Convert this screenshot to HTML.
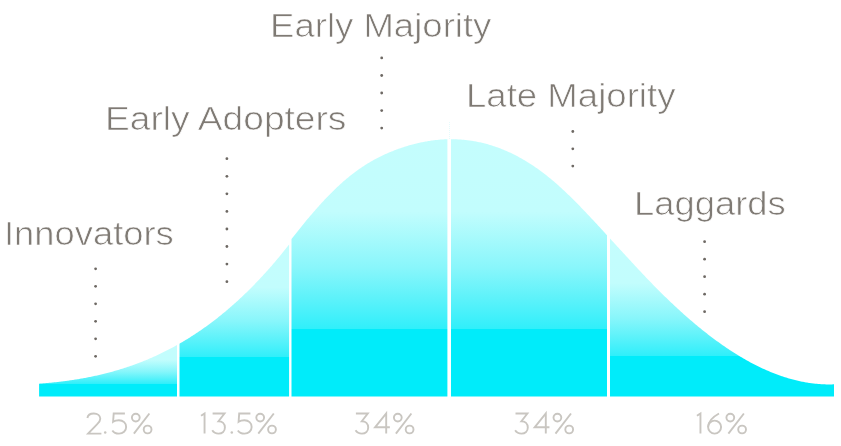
<!DOCTYPE html>
<html><head><meta charset="utf-8"><style>
html,body{margin:0;padding:0;background:#fff;width:841px;height:446px;overflow:hidden;position:relative}
svg{position:absolute;left:0;top:0}
#w{position:absolute;left:0;top:0;width:841px;height:446px}
.t{position:absolute;will-change:transform;white-space:nowrap;font-family:"Liberation Sans",sans-serif;line-height:1;transform-origin:0 0}
</style></head><body><div id="w">
<svg width="841" height="446" viewBox="0 0 841 446">
<defs><linearGradient id="g0" gradientUnits="userSpaceOnUse" x1="0" y1="345.05" x2="0" y2="396.60"><stop offset="0.0000" stop-color="#c4fdfd"/><stop offset="0.2864" stop-color="#c2fdfd"/><stop offset="0.5113" stop-color="#88f6fb"/><stop offset="0.6341" stop-color="#5cf2fa"/><stop offset="0.7517" stop-color="#30effa"/><stop offset="0.7517" stop-color="#00ecfa"/><stop offset="1.0000" stop-color="#00ecfa"/></linearGradient>
<linearGradient id="g1" gradientUnits="userSpaceOnUse" x1="0" y1="244.52" x2="0" y2="396.60"><stop offset="0.0000" stop-color="#c4fdfd"/><stop offset="0.2818" stop-color="#c2fdfd"/><stop offset="0.5031" stop-color="#88f6fb"/><stop offset="0.6239" stop-color="#5cf2fa"/><stop offset="0.7396" stop-color="#30effa"/><stop offset="0.7396" stop-color="#00ecfa"/><stop offset="1.0000" stop-color="#00ecfa"/></linearGradient>
<linearGradient id="g2" gradientUnits="userSpaceOnUse" x1="0" y1="139.26" x2="0" y2="396.60"><stop offset="0.0000" stop-color="#c4fdfd"/><stop offset="0.2807" stop-color="#c2fdfd"/><stop offset="0.5013" stop-color="#88f6fb"/><stop offset="0.6216" stop-color="#5cf2fa"/><stop offset="0.7369" stop-color="#30effa"/><stop offset="0.7369" stop-color="#00ecfa"/><stop offset="1.0000" stop-color="#00ecfa"/></linearGradient>
<linearGradient id="g3" gradientUnits="userSpaceOnUse" x1="0" y1="139.21" x2="0" y2="396.60"><stop offset="0.0000" stop-color="#c4fdfd"/><stop offset="0.2808" stop-color="#c2fdfd"/><stop offset="0.5013" stop-color="#88f6fb"/><stop offset="0.6217" stop-color="#5cf2fa"/><stop offset="0.7370" stop-color="#30effa"/><stop offset="0.7370" stop-color="#00ecfa"/><stop offset="1.0000" stop-color="#00ecfa"/></linearGradient>
<linearGradient id="g4" gradientUnits="userSpaceOnUse" x1="0" y1="238.50" x2="0" y2="396.60"><stop offset="0.0000" stop-color="#c4fdfd"/><stop offset="0.2822" stop-color="#c2fdfd"/><stop offset="0.5039" stop-color="#88f6fb"/><stop offset="0.6248" stop-color="#5cf2fa"/><stop offset="0.7407" stop-color="#30effa"/><stop offset="0.7407" stop-color="#00ecfa"/><stop offset="1.0000" stop-color="#00ecfa"/></linearGradient></defs>
<path d="M39.10,396.6 L39.10,383.67 L40.10,383.60 L41.10,383.52 L42.10,383.44 L43.10,383.36 L44.10,383.28 L45.10,383.20 L46.10,383.11 L47.10,383.02 L48.10,382.93 L49.10,382.84 L50.10,382.75 L51.10,382.65 L52.10,382.55 L53.10,382.45 L54.10,382.35 L55.10,382.24 L56.10,382.13 L57.10,382.02 L58.10,381.91 L59.10,381.80 L60.10,381.68 L61.10,381.56 L62.10,381.44 L63.10,381.31 L64.10,381.18 L65.10,381.05 L66.10,380.92 L67.10,380.79 L68.10,380.65 L69.10,380.51 L70.10,380.37 L71.10,380.22 L72.10,380.07 L73.10,379.92 L74.10,379.77 L75.10,379.61 L76.10,379.45 L77.10,379.29 L78.10,379.13 L79.10,378.96 L80.10,378.79 L81.10,378.62 L82.10,378.44 L83.10,378.26 L84.10,378.08 L85.10,377.89 L86.10,377.71 L87.10,377.51 L88.10,377.32 L89.10,377.12 L90.10,376.92 L91.10,376.72 L92.10,376.51 L93.10,376.30 L94.10,376.09 L95.10,375.87 L96.10,375.65 L97.10,375.43 L98.10,375.20 L99.10,374.98 L100.10,374.74 L101.10,374.51 L102.10,374.27 L103.10,374.02 L104.10,373.78 L105.10,373.53 L106.10,373.28 L107.10,373.02 L108.10,372.76 L109.10,372.50 L110.10,372.23 L111.10,371.96 L112.10,371.68 L113.10,371.41 L114.10,371.12 L115.10,370.84 L116.10,370.55 L117.10,370.26 L118.10,369.96 L119.10,369.66 L120.10,369.36 L121.10,369.05 L122.10,368.74 L123.10,368.42 L124.10,368.10 L125.10,367.78 L126.10,367.45 L127.10,367.12 L128.10,366.78 L129.10,366.44 L130.10,366.10 L131.10,365.75 L132.10,365.40 L133.10,365.05 L134.10,364.69 L135.10,364.32 L136.10,363.95 L137.10,363.58 L138.10,363.21 L139.10,362.83 L140.10,362.44 L141.10,362.05 L142.10,361.66 L143.10,361.26 L144.10,360.86 L145.10,360.45 L146.10,360.04 L147.10,359.63 L148.10,359.21 L149.10,358.78 L150.10,358.35 L151.10,357.92 L152.10,357.48 L153.10,357.04 L154.10,356.59 L155.10,356.14 L156.10,355.69 L157.10,355.22 L158.10,354.76 L159.10,354.29 L160.10,353.81 L161.10,353.33 L162.10,352.85 L163.10,352.36 L164.10,351.87 L165.10,351.37 L166.10,350.87 L167.10,350.36 L168.10,349.84 L169.10,349.32 L170.10,348.80 L171.10,348.27 L172.10,347.74 L173.10,347.20 L174.10,346.66 L175.10,346.11 L176.10,345.56 L177.00,345.05 L177.00,396.6 Z" fill="url(#g0)"/>
<path d="M179.50,396.6 L179.50,343.64 L180.50,343.06 L181.50,342.48 L182.50,341.89 L183.50,341.30 L184.50,340.70 L185.50,340.10 L186.50,339.49 L187.50,338.88 L188.50,338.26 L189.50,337.64 L190.50,337.01 L191.50,336.37 L192.50,335.73 L193.50,335.09 L194.50,334.44 L195.50,333.78 L196.50,333.12 L197.50,332.45 L198.50,331.78 L199.50,331.10 L200.50,330.41 L201.50,329.72 L202.50,329.02 L203.50,328.32 L204.50,327.62 L205.50,326.90 L206.50,326.18 L207.50,325.46 L208.50,324.73 L209.50,323.99 L210.50,323.25 L211.50,322.50 L212.50,321.74 L213.50,320.98 L214.50,320.22 L215.50,319.44 L216.50,318.67 L217.50,317.88 L218.50,317.09 L219.50,316.29 L220.50,315.49 L221.50,314.68 L222.50,313.87 L223.50,313.05 L224.50,312.22 L225.50,311.39 L226.50,310.55 L227.50,309.70 L228.50,308.85 L229.50,307.99 L230.50,307.12 L231.50,306.25 L232.50,305.37 L233.50,304.49 L234.50,303.60 L235.50,302.70 L236.50,301.80 L237.50,300.89 L238.50,299.97 L239.50,299.05 L240.50,298.12 L241.50,297.18 L242.50,296.24 L243.50,295.29 L244.50,294.33 L245.50,293.37 L246.50,292.40 L247.50,291.42 L248.50,290.44 L249.50,289.45 L250.50,288.45 L251.50,287.45 L252.50,286.43 L253.50,285.42 L254.50,284.39 L255.50,283.36 L256.50,282.32 L257.50,281.28 L258.50,280.22 L259.50,279.17 L260.50,278.10 L261.50,277.03 L262.50,275.95 L263.50,274.86 L264.50,273.76 L265.50,272.66 L266.50,271.55 L267.50,270.43 L268.50,269.31 L269.50,268.18 L270.50,267.04 L271.50,265.90 L272.50,264.74 L273.50,263.58 L274.50,262.42 L275.50,261.24 L276.50,260.06 L277.50,258.87 L278.50,257.67 L279.50,256.47 L280.50,255.26 L281.50,254.04 L282.50,252.81 L283.50,251.57 L284.50,250.33 L285.50,249.08 L286.50,247.82 L287.50,246.56 L288.50,245.29 L289.10,244.52 L289.10,396.6 Z" fill="url(#g1)"/>
<path d="M291.50,396.6 L291.50,239.03 L292.50,237.74 L293.50,236.46 L294.50,235.19 L295.50,233.91 L296.50,232.65 L297.50,231.39 L298.50,230.13 L299.50,228.88 L300.50,227.64 L301.50,226.40 L302.50,225.17 L303.50,223.95 L304.50,222.73 L305.50,221.52 L306.50,220.31 L307.50,219.11 L308.50,217.92 L309.50,216.73 L310.50,215.55 L311.50,214.38 L312.50,213.22 L313.50,212.06 L314.50,210.91 L315.50,209.77 L316.50,208.64 L317.50,207.51 L318.50,206.39 L319.50,205.28 L320.50,204.18 L321.50,203.09 L322.50,202.00 L323.50,200.93 L324.50,199.86 L325.50,198.80 L326.50,197.75 L327.50,196.71 L328.50,195.68 L329.50,194.65 L330.50,193.64 L331.50,192.64 L332.50,191.64 L333.50,190.66 L334.50,189.68 L335.50,188.72 L336.50,187.76 L337.50,186.82 L338.50,185.89 L339.50,184.96 L340.50,184.05 L341.50,183.15 L342.50,182.25 L343.50,181.37 L344.50,180.50 L345.50,179.65 L346.50,178.80 L347.50,177.96 L348.50,177.14 L349.50,176.33 L350.50,175.52 L351.50,174.73 L352.50,173.96 L353.50,173.19 L354.50,172.44 L355.50,171.69 L356.50,170.96 L357.50,170.24 L358.50,169.53 L359.50,168.83 L360.50,168.14 L361.50,167.46 L362.50,166.80 L363.50,166.14 L364.50,165.49 L365.50,164.86 L366.50,164.23 L367.50,163.61 L368.50,163.01 L369.50,162.41 L370.50,161.82 L371.50,161.25 L372.50,160.68 L373.50,160.12 L374.50,159.57 L375.50,159.03 L376.50,158.50 L377.50,157.97 L378.50,157.46 L379.50,156.96 L380.50,156.46 L381.50,155.97 L382.50,155.49 L383.50,155.02 L384.50,154.56 L385.50,154.10 L386.50,153.65 L387.50,153.21 L388.50,152.78 L389.50,152.36 L390.50,151.94 L391.50,151.53 L392.50,151.13 L393.50,150.73 L394.50,150.35 L395.50,149.96 L396.50,149.59 L397.50,149.22 L398.50,148.86 L399.50,148.51 L400.50,148.16 L401.50,147.82 L402.50,147.48 L403.50,147.15 L404.50,146.83 L405.50,146.51 L406.50,146.20 L407.50,145.90 L408.50,145.60 L409.50,145.31 L410.50,145.02 L411.50,144.75 L412.50,144.48 L413.50,144.21 L414.50,143.95 L415.50,143.70 L416.50,143.46 L417.50,143.22 L418.50,142.99 L419.50,142.76 L420.50,142.54 L421.50,142.33 L422.50,142.13 L423.50,141.93 L424.50,141.74 L425.50,141.56 L426.50,141.38 L427.50,141.21 L428.50,141.04 L429.50,140.89 L430.50,140.74 L431.50,140.59 L432.50,140.46 L433.50,140.33 L434.50,140.21 L435.50,140.09 L436.50,139.98 L437.50,139.88 L438.50,139.79 L439.50,139.70 L440.50,139.62 L441.50,139.55 L442.50,139.48 L443.50,139.42 L444.50,139.37 L445.50,139.33 L446.50,139.29 L447.40,139.26 L447.40,396.6 Z" fill="url(#g2)"/>
<path d="M451.00,396.6 L451.00,139.21 L452.00,139.22 L453.00,139.23 L454.00,139.24 L455.00,139.27 L456.00,139.30 L457.00,139.34 L458.00,139.39 L459.00,139.44 L460.00,139.51 L461.00,139.58 L462.00,139.65 L463.00,139.74 L464.00,139.83 L465.00,139.93 L466.00,140.04 L467.00,140.15 L468.00,140.28 L469.00,140.41 L470.00,140.55 L471.00,140.69 L472.00,140.85 L473.00,141.01 L474.00,141.18 L475.00,141.35 L476.00,141.54 L477.00,141.73 L478.00,141.93 L479.00,142.14 L480.00,142.36 L481.00,142.58 L482.00,142.81 L483.00,143.05 L484.00,143.30 L485.00,143.56 L486.00,143.82 L487.00,144.09 L488.00,144.37 L489.00,144.66 L490.00,144.96 L491.00,145.26 L492.00,145.57 L493.00,145.89 L494.00,146.22 L495.00,146.56 L496.00,146.90 L497.00,147.26 L498.00,147.62 L499.00,147.99 L500.00,148.37 L501.00,148.75 L502.00,149.15 L503.00,149.55 L504.00,149.96 L505.00,150.38 L506.00,150.81 L507.00,151.24 L508.00,151.69 L509.00,152.14 L510.00,152.60 L511.00,153.07 L512.00,153.55 L513.00,154.04 L514.00,154.54 L515.00,155.04 L516.00,155.55 L517.00,156.08 L518.00,156.61 L519.00,157.15 L520.00,157.69 L521.00,158.25 L522.00,158.81 L523.00,159.39 L524.00,159.97 L525.00,160.56 L526.00,161.16 L527.00,161.77 L528.00,162.39 L529.00,163.02 L530.00,163.65 L531.00,164.30 L532.00,164.95 L533.00,165.61 L534.00,166.28 L535.00,166.96 L536.00,167.65 L537.00,168.35 L538.00,169.06 L539.00,169.77 L540.00,170.50 L541.00,171.23 L542.00,171.98 L543.00,172.73 L544.00,173.49 L545.00,174.26 L546.00,175.04 L547.00,175.83 L548.00,176.63 L549.00,177.44 L550.00,178.26 L551.00,179.08 L552.00,179.92 L553.00,180.76 L554.00,181.62 L555.00,182.48 L556.00,183.35 L557.00,184.23 L558.00,185.11 L559.00,186.01 L560.00,186.91 L561.00,187.82 L562.00,188.74 L563.00,189.67 L564.00,190.60 L565.00,191.54 L566.00,192.48 L567.00,193.44 L568.00,194.40 L569.00,195.36 L570.00,196.34 L571.00,197.31 L572.00,198.30 L573.00,199.29 L574.00,200.28 L575.00,201.29 L576.00,202.29 L577.00,203.30 L578.00,204.32 L579.00,205.34 L580.00,206.37 L581.00,207.40 L582.00,208.43 L583.00,209.47 L584.00,210.51 L585.00,211.56 L586.00,212.61 L587.00,213.66 L588.00,214.72 L589.00,215.78 L590.00,216.84 L591.00,217.91 L592.00,218.98 L593.00,220.05 L594.00,221.12 L595.00,222.20 L596.00,223.28 L597.00,224.36 L598.00,225.44 L599.00,226.52 L600.00,227.61 L601.00,228.69 L602.00,229.78 L603.00,230.87 L604.00,231.96 L605.00,233.05 L606.00,234.14 L607.00,235.23 L607.00,396.6 Z" fill="url(#g3)"/>
<path d="M610.00,396.6 L610.00,238.50 L611.00,239.59 L612.00,240.68 L613.00,241.77 L614.00,242.86 L615.00,243.95 L616.00,245.04 L617.00,246.13 L618.00,247.22 L619.00,248.31 L620.00,249.39 L621.00,250.48 L622.00,251.57 L623.00,252.66 L624.00,253.75 L625.00,254.83 L626.00,255.92 L627.00,257.00 L628.00,258.09 L629.00,259.17 L630.00,260.25 L631.00,261.34 L632.00,262.42 L633.00,263.50 L634.00,264.58 L635.00,265.66 L636.00,266.73 L637.00,267.81 L638.00,268.88 L639.00,269.95 L640.00,271.02 L641.00,272.09 L642.00,273.15 L643.00,274.21 L644.00,275.27 L645.00,276.32 L646.00,277.38 L647.00,278.43 L648.00,279.47 L649.00,280.51 L650.00,281.55 L651.00,282.58 L652.00,283.62 L653.00,284.64 L654.00,285.66 L655.00,286.68 L656.00,287.70 L657.00,288.71 L658.00,289.71 L659.00,290.72 L660.00,291.71 L661.00,292.71 L662.00,293.70 L663.00,294.68 L664.00,295.66 L665.00,296.64 L666.00,297.61 L667.00,298.58 L668.00,299.55 L669.00,300.51 L670.00,301.46 L671.00,302.42 L672.00,303.36 L673.00,304.31 L674.00,305.24 L675.00,306.18 L676.00,307.11 L677.00,308.03 L678.00,308.95 L679.00,309.87 L680.00,310.78 L681.00,311.69 L682.00,312.59 L683.00,313.49 L684.00,314.38 L685.00,315.27 L686.00,316.15 L687.00,317.03 L688.00,317.91 L689.00,318.78 L690.00,319.64 L691.00,320.50 L692.00,321.36 L693.00,322.21 L694.00,323.06 L695.00,323.90 L696.00,324.74 L697.00,325.57 L698.00,326.39 L699.00,327.22 L700.00,328.03 L701.00,328.85 L702.00,329.65 L703.00,330.45 L704.00,331.25 L705.00,332.04 L706.00,332.83 L707.00,333.61 L708.00,334.39 L709.00,335.16 L710.00,335.93 L711.00,336.69 L712.00,337.44 L713.00,338.19 L714.00,338.94 L715.00,339.68 L716.00,340.42 L717.00,341.15 L718.00,341.87 L719.00,342.59 L720.00,343.30 L721.00,344.01 L722.00,344.72 L723.00,345.41 L724.00,346.11 L725.00,346.79 L726.00,347.47 L727.00,348.15 L728.00,348.82 L729.00,349.48 L730.00,350.14 L731.00,350.80 L732.00,351.45 L733.00,352.09 L734.00,352.72 L735.00,353.36 L736.00,353.98 L737.00,354.60 L738.00,355.22 L739.00,355.82 L740.00,356.43 L741.00,357.02 L742.00,357.61 L743.00,358.20 L744.00,358.78 L745.00,359.35 L746.00,359.92 L747.00,360.48 L748.00,361.04 L749.00,361.59 L750.00,362.13 L751.00,362.67 L752.00,363.20 L753.00,363.72 L754.00,364.24 L755.00,364.76 L756.00,365.26 L757.00,365.77 L758.00,366.26 L759.00,366.75 L760.00,367.23 L761.00,367.71 L762.00,368.18 L763.00,368.64 L764.00,369.10 L765.00,369.55 L766.00,370.00 L767.00,370.44 L768.00,370.87 L769.00,371.30 L770.00,371.72 L771.00,372.13 L772.00,372.54 L773.00,372.94 L774.00,373.33 L775.00,373.72 L776.00,374.10 L777.00,374.47 L778.00,374.84 L779.00,375.20 L780.00,375.56 L781.00,375.91 L782.00,376.25 L783.00,376.58 L784.00,376.91 L785.00,377.23 L786.00,377.55 L787.00,377.85 L788.00,378.16 L789.00,378.45 L790.00,378.74 L791.00,379.02 L792.00,379.29 L793.00,379.56 L794.00,379.82 L795.00,380.07 L796.00,380.32 L797.00,380.56 L798.00,380.79 L799.00,381.02 L800.00,381.24 L801.00,381.45 L802.00,381.65 L803.00,381.85 L804.00,382.04 L805.00,382.22 L806.00,382.40 L807.00,382.57 L808.00,382.73 L809.00,382.88 L810.00,383.03 L811.00,383.17 L812.00,383.30 L813.00,383.43 L814.00,383.54 L815.00,383.66 L816.00,383.76 L817.00,383.85 L818.00,383.94 L819.00,384.02 L820.00,384.10 L821.00,384.16 L822.00,384.22 L823.00,384.27 L824.00,384.32 L825.00,384.35 L826.00,384.38 L827.00,384.40 L828.00,384.42 L829.00,384.42 L830.00,384.42 L831.00,384.41 L832.00,384.39 L833.00,384.37 L834.00,384.34 L834.00,396.6 Z" fill="url(#g4)"/>
<line x1="449.5" y1="122" x2="449.5" y2="139" stroke="#e6fbfc" stroke-width="1" stroke-dasharray="1 1"/>
<circle cx="95.6" cy="268.8" r="1.40" fill="#6e6964"/>
<circle cx="95.6" cy="286.3" r="1.40" fill="#6e6964"/>
<circle cx="95.6" cy="303.8" r="1.40" fill="#6e6964"/>
<circle cx="95.6" cy="321.3" r="1.40" fill="#6e6964"/>
<circle cx="95.6" cy="338.8" r="1.40" fill="#6e6964"/>
<circle cx="95.6" cy="356.3" r="1.40" fill="#6e6964"/>
<circle cx="226.9" cy="158.7" r="1.40" fill="#6e6964"/>
<circle cx="226.9" cy="176.3" r="1.40" fill="#6e6964"/>
<circle cx="226.9" cy="193.8" r="1.40" fill="#6e6964"/>
<circle cx="226.9" cy="211.4" r="1.40" fill="#6e6964"/>
<circle cx="226.9" cy="229.0" r="1.40" fill="#6e6964"/>
<circle cx="226.9" cy="246.5" r="1.40" fill="#6e6964"/>
<circle cx="226.9" cy="264.1" r="1.40" fill="#6e6964"/>
<circle cx="226.9" cy="281.7" r="1.40" fill="#6e6964"/>
<circle cx="381.7" cy="57.9" r="1.40" fill="#6e6964"/>
<circle cx="381.7" cy="75.5" r="1.40" fill="#6e6964"/>
<circle cx="381.7" cy="93.0" r="1.40" fill="#6e6964"/>
<circle cx="381.7" cy="110.6" r="1.40" fill="#6e6964"/>
<circle cx="381.7" cy="128.1" r="1.40" fill="#6e6964"/>
<circle cx="572.8" cy="131.5" r="1.40" fill="#6e6964"/>
<circle cx="572.8" cy="148.8" r="1.40" fill="#6e6964"/>
<circle cx="572.8" cy="166.1" r="1.40" fill="#6e6964"/>
<circle cx="704.6" cy="241.7" r="1.40" fill="#6e6964"/>
<circle cx="704.6" cy="259.2" r="1.40" fill="#6e6964"/>
<circle cx="704.6" cy="276.7" r="1.40" fill="#6e6964"/>
<circle cx="704.6" cy="294.2" r="1.40" fill="#6e6964"/>
<circle cx="704.6" cy="311.7" r="1.40" fill="#6e6964"/>
<g fill="none" stroke="#c9c6c1" stroke-width="1.90" stroke-linecap="butt" stroke-linejoin="miter">
<g transform="translate(86.20,0)"><path d="M1.2,418 C1.6,415.2 4.3,413.5 7.6,413.5 C11.3,413.5 14.1,415.7 14.1,418.8 C14.1,421 12.8,422.6 10.8,424.4 L1.9,433.6 L15.2,433.6"/></g>
<g transform="translate(103.90,0)"><circle cx="1.3" cy="432.4" r="1.25" fill="#c9c6c1" stroke="none"/></g>
<g transform="translate(111.40,0)"><path d="M13.5,413.5 L2.3,413.5 L1.7,421.8 C3.3,420.7 5.5,420.2 7.5,420.2 C11.8,420.2 14.75,423.1 14.75,426.9 C14.75,430.9 11.6,433.6 7.6,433.6 C4.6,433.6 2.2,432.4 0.95,430.4"/></g>
<g transform="translate(130.90,0)"><circle cx="4.9" cy="417.6" r="3.9"/><circle cx="16.7" cy="429.5" r="3.9"/><path d="M18.5,413.5 L3,433.6"/></g>
<g transform="translate(200.10,0)"><path d="M0.95,415.8 L4.45,413.5 L4.45,433.6"/></g>
<g transform="translate(211.30,0)"><path d="M1.3,413.5 L13.2,413.5 L7.2,421.2 C10.9,421.2 13.6,423.8 13.6,427.5 C13.6,431.2 10.9,433.6 7.3,433.6 C4.7,433.6 2.3,432.4 0.95,430.3"/></g>
<g transform="translate(230.50,0)"><circle cx="1.3" cy="432.4" r="1.25" fill="#c9c6c1" stroke="none"/></g>
<g transform="translate(236.90,0)"><path d="M13.5,413.5 L2.3,413.5 L1.7,421.8 C3.3,420.7 5.5,420.2 7.5,420.2 C11.8,420.2 14.75,423.1 14.75,426.9 C14.75,430.9 11.6,433.6 7.6,433.6 C4.6,433.6 2.2,432.4 0.95,430.4"/></g>
<g transform="translate(255.30,0)"><circle cx="4.9" cy="417.6" r="3.9"/><circle cx="16.7" cy="429.5" r="3.9"/><path d="M18.5,413.5 L3,433.6"/></g>
<g transform="translate(354.60,0)"><path d="M1.3,413.5 L13.2,413.5 L7.2,421.2 C10.9,421.2 13.6,423.8 13.6,427.5 C13.6,431.2 10.9,433.6 7.3,433.6 C4.7,433.6 2.3,432.4 0.95,430.3"/></g>
<g transform="translate(374.10,0)"><path d="M12.1,433.6 L12.1,413.5 L0.95,427.3 L15.75,427.3"/></g>
<g transform="translate(392.90,0)"><circle cx="4.9" cy="417.6" r="3.9"/><circle cx="16.7" cy="429.5" r="3.9"/><path d="M18.5,413.5 L3,433.6"/></g>
<g transform="translate(514.20,0)"><path d="M1.3,413.5 L13.2,413.5 L7.2,421.2 C10.9,421.2 13.6,423.8 13.6,427.5 C13.6,431.2 10.9,433.6 7.3,433.6 C4.7,433.6 2.3,432.4 0.95,430.3"/></g>
<g transform="translate(533.70,0)"><path d="M12.1,433.6 L12.1,413.5 L0.95,427.3 L15.75,427.3"/></g>
<g transform="translate(552.50,0)"><circle cx="4.9" cy="417.6" r="3.9"/><circle cx="16.7" cy="429.5" r="3.9"/><path d="M18.5,413.5 L3,433.6"/></g>
<g transform="translate(696.00,0)"><path d="M0.95,415.8 L4.45,413.5 L4.45,433.6"/></g>
<g transform="translate(707.10,0)"><circle cx="7.5" cy="427.1" r="6.5"/><path d="M11.9,413.5 Q1.0,419.5 1.0,427.1"/></g>
<g transform="translate(725.40,0)"><circle cx="4.9" cy="417.6" r="3.9"/><circle cx="16.7" cy="429.5" r="3.9"/><path d="M18.5,413.5 L3,433.6"/></g>
</g>
</svg>
<div class="t" style="left:269.5px;top:8.7px;font-size:33.5px;color:#7f7a74;transform:scaleX(1.0910);-webkit-text-stroke:0.70px #fff;letter-spacing:0.00px">Early Majority</div>
<div class="t" style="left:104.9px;top:101.9px;font-size:33.5px;color:#7f7a74;transform:scaleX(1.1080);-webkit-text-stroke:0.70px #fff;letter-spacing:0.00px">Early Adopters</div>
<div class="t" style="left:465.7px;top:78.7px;font-size:33.5px;color:#7f7a74;transform:scaleX(1.0920);-webkit-text-stroke:0.70px #fff;letter-spacing:0.00px">Late Majority</div>
<div class="t" style="left:3.5px;top:216.7px;font-size:33.5px;color:#7f7a74;transform:scaleX(1.0850);-webkit-text-stroke:0.70px #fff;letter-spacing:0.00px">Innovators</div>
<div class="t" style="left:633.7px;top:186.7px;font-size:33.5px;color:#7f7a74;transform:scaleX(1.0860);-webkit-text-stroke:0.70px #fff;letter-spacing:0.00px">Laggards</div>
</div></body></html>
